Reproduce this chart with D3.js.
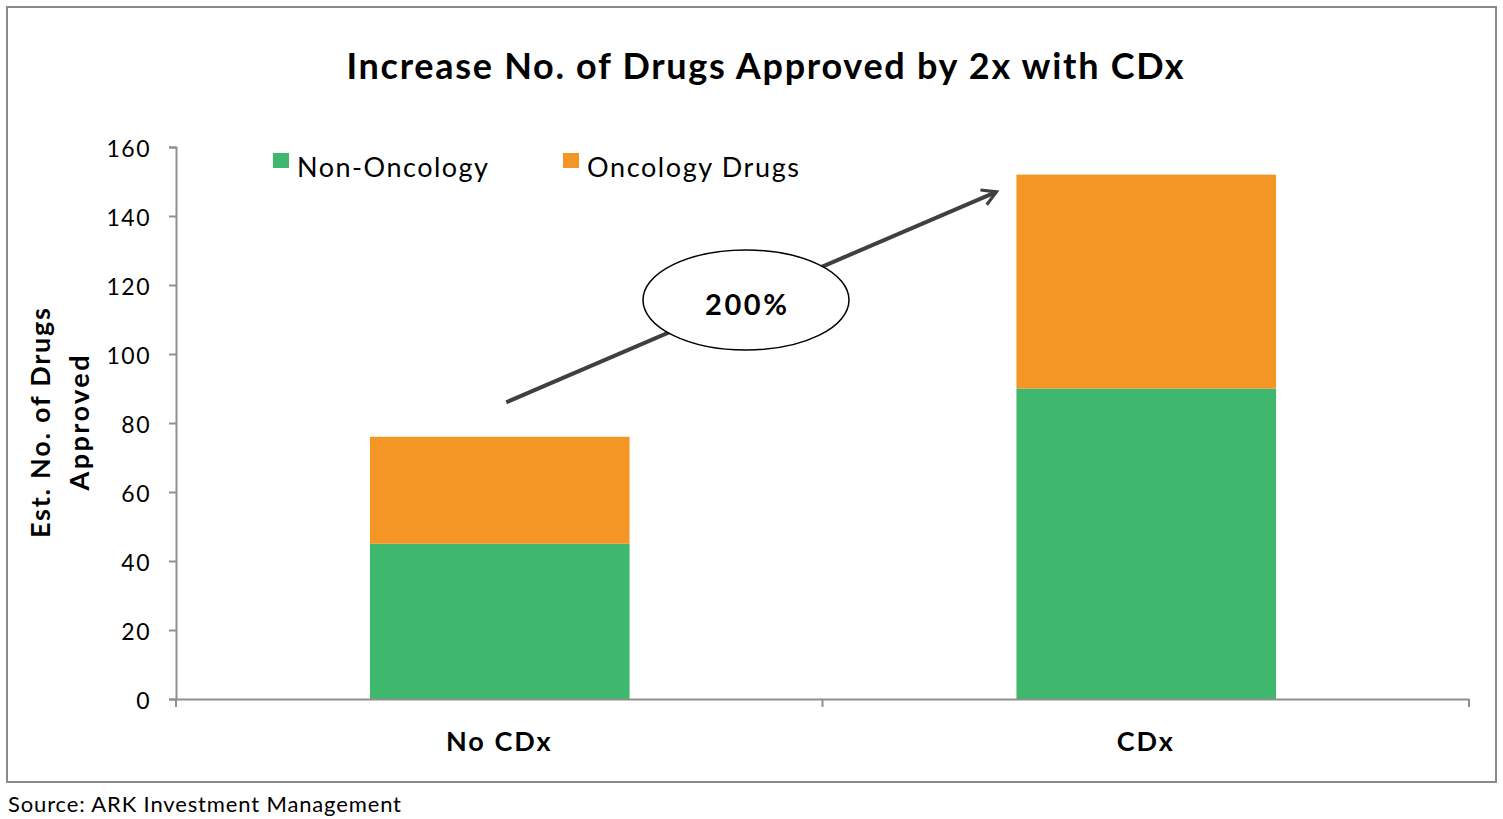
<!DOCTYPE html>
<html><head><meta charset="utf-8">
<script src="https://cdn.jsdelivr.net/npm/d3@7/dist/d3.min.js"></script>
<style>body{margin:0;background:#fff;}svg{display:block;}text{font-family:Lato, "Open Sans", sans-serif;}</style>
</head><body>
<svg id="c" width="1503" height="819"></svg>
<script>
const categories = ["No CDx", "CDx"];
const nonOncology = [45, 90];
const oncology = [31, 62];
const seriesNames = ["Non-Oncology", "Oncology Drugs"];
const colors = ["#3fb86d", "#f49626"];
const yTicks = [0, 20, 40, 60, 80, 100, 120, 140, 160];
const growthLabel = "200%";

const svg = d3.select("#c");
svg.append("rect").attr("x", 7).attr("y", 7).attr("width", 1489).attr("height", 775)
  .attr("fill", "#fff").attr("stroke", "#8a8a8a").attr("stroke-width", 2);

const m = {l: 176, r: 1469, t: 147, b: 699};
const x = d3.scaleBand().domain(categories).range([m.l, m.r]).paddingInner(0.6).paddingOuter(0.3);
const y = d3.scaleLinear().domain([0, 160]).range([m.b, m.t]);

const rows = categories.map((c, i) => ({cat: c, "Non-Oncology": nonOncology[i], "Oncology Drugs": oncology[i]}));
const stack = d3.stack().keys(seriesNames)(rows);

svg.append("g").selectAll("g").data(stack).join("g").attr("fill", (d, i) => colors[i])
  .selectAll("rect").data(d => d).join("rect")
  .attr("x", d => x(d.data.cat)).attr("width", x.bandwidth() + 1)
  .attr("y", d => y(d[1])).attr("height", d => y(d[0]) - y(d[1]));

// y axis
const ya = svg.append("g").attr("transform", `translate(${m.l},0)`)
  .call(d3.axisLeft(y).tickValues(yTicks).tickSize(7).tickPadding(18));
ya.select(".domain").attr("stroke", "#8f8f8f").attr("stroke-width", 2);
ya.selectAll(".tick line").attr("stroke", "#8f8f8f").attr("stroke-width", 2);
ya.selectAll(".tick text").attr("font-size", 23).attr("fill", "#000").attr("font-family", "Lato")
  .attr("dy", "0.4em").attr("letter-spacing", 1.5);

// x axis
const xa = svg.append("g").attr("transform", `translate(0,${m.b})`)
  .call(d3.axisBottom(x).tickSize(0).tickPadding(33));
xa.select(".domain").attr("stroke", "#8f8f8f").attr("stroke-width", 2);
xa.selectAll(".tick text").attr("font-size", 27).attr("font-weight", "bold").attr("fill", "#000")
  .attr("font-family", "Lato").attr("letter-spacing", 2);
const xBounds = [m.l, (m.l + m.r) / 2, m.r];
xa.selectAll(".xt").data(xBounds).join("line").attr("x1", d => d).attr("x2", d => d)
  .attr("y1", 0).attr("y2", 8).attr("stroke", "#8f8f8f").attr("stroke-width", 2);

// title
svg.append("text").attr("x", 765).attr("y", 79).attr("text-anchor", "middle")
  .attr("font-size", 36).attr("font-weight", "bold").attr("fill", "#000")
  .attr("textLength", 837).attr("lengthAdjust", "spacing")
  .text("Increase No. of Drugs Approved by 2x with CDx");

// y title
const yt = svg.append("text").attr("transform", `translate(0,${(m.t + m.b) / 2}) rotate(-90)`)
  .attr("text-anchor", "middle").attr("font-size", 27).attr("font-weight", "bold").attr("fill", "#000");
yt.append("tspan").attr("x", 0).attr("y", 50).attr("textLength", 230).attr("lengthAdjust", "spacing").text("Est. No. of Drugs");
yt.append("tspan").attr("x", 0).attr("y", 89).attr("textLength", 135).attr("lengthAdjust", "spacing").text("Approved");

// legend
const legX = [273, 563];
const legW = [191, 212];
seriesNames.forEach((s, i) => {
  svg.append("rect").attr("x", legX[i]).attr("y", 153).attr("width", 16).attr("height", 15).attr("fill", colors[i]);
  svg.append("text").attr("x", legX[i] + 24).attr("y", 177).attr("font-size", 27).attr("fill", "#000")
    .attr("textLength", legW[i]).attr("lengthAdjust", "spacing").text(s);
});

// arrow annotation
const defs = svg.append("defs");
defs.append("marker").attr("id", "ah").attr("viewBox", "0 0 10 10").attr("refX", 8).attr("refY", 5)
  .attr("markerWidth", 5).attr("markerHeight", 5).attr("orient", "auto")
  .append("path").attr("d", "M1,1 L8,5 L1,9").attr("fill", "none").attr("stroke", "#404040").attr("stroke-width", 1.6);
const a0 = [x("No CDx") + x.bandwidth() / 2 + 7, y(86)];
const a1 = [x("CDx") - 20, y(147)];
svg.append("line").attr("x1", a0[0]).attr("y1", a0[1]).attr("x2", a1[0]).attr("y2", a1[1])
  .attr("stroke", "#404040").attr("stroke-width", 4).attr("marker-end", "url(#ah)");
svg.append("ellipse").attr("cx", 746).attr("cy", 300).attr("rx", 103).attr("ry", 50)
  .attr("fill", "#fff").attr("stroke", "#000").attr("stroke-width", 1.5);
svg.append("text").attr("x", 746).attr("y", 315).attr("text-anchor", "middle")
  .attr("font-size", 29).attr("font-weight", "bold").attr("fill", "#000")
  .attr("textLength", 82).attr("lengthAdjust", "spacing").text(growthLabel);

// source
svg.append("text").attr("x", 8).attr("y", 812).attr("font-size", 22).attr("fill", "#000")
  .attr("textLength", 393).attr("lengthAdjust", "spacing")
  .text("Source: ARK Investment Management");
</script>
</body></html>
